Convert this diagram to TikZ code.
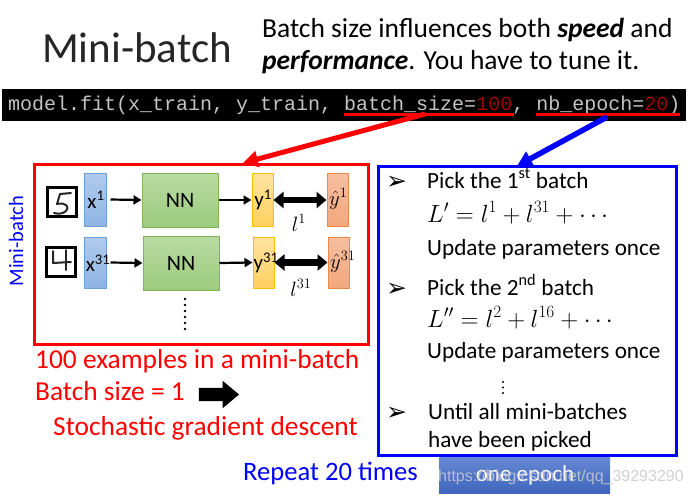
\documentclass[tikz,border=0pt]{standalone}
\usepackage{fontspec}
\usepackage{graphicx}
\usetikzlibrary{arrows.meta,shapes.arrows}
\setmainfont{Carlito}
\newfontfamily\codefont{Liberation Mono}
\newfontfamily\symfont{DejaVu Sans}
\newfontfamily\wmfont{Liberation Sans}
\newcommand\fs[1]{\fontsize{#1}{#1}\selectfont}
\definecolor{xfillA}{HTML}{AFCBEC}
\definecolor{xfillB}{HTML}{8FB4E3}
\definecolor{xline}{HTML}{6F9FD8}
\definecolor{nnA}{HTML}{B9DBA2}
\definecolor{nnB}{HTML}{9DCB7E}
\definecolor{nnline}{HTML}{7FB35A}
\definecolor{yA}{HTML}{FFE3A0}
\definecolor{yB}{HTML}{FFD060}
\definecolor{yline}{HTML}{FFC000}
\definecolor{hA}{HTML}{F6BEA0}
\definecolor{hB}{HTML}{F3A77C}
\definecolor{hline}{HTML}{EE8845}
\definecolor{codegray}{HTML}{C4C4C4}
\definecolor{codered}{HTML}{A00000}
\definecolor{btnA}{HTML}{6688D4}
\definecolor{btnB}{HTML}{3F66BC}
\definecolor{wmgray}{HTML}{C8C8D2}
\tikzset{
  xrect/.style={draw=xline, line width=1pt, top color=xfillA, bottom color=xfillB, minimum width=22pt, minimum height=53pt, inner sep=0pt},
  nnrect/.style={draw=nnline, line width=1pt, top color=nnA, bottom color=nnB, minimum width=76pt, minimum height=54pt, inner sep=0pt},
  yrect/.style={draw=yline, line width=1pt, top color=yA, bottom color=yB, minimum width=21pt, minimum height=53pt, inner sep=0pt},
  hrect/.style={draw=hline, line width=1pt, top color=hA, bottom color=hB, minimum width=21pt, minimum height=53pt, inner sep=0pt},
  digitbox/.style={draw=black, line width=3pt, fill=white, minimum width=29pt, minimum height=29pt, inner sep=0pt},
  flowarrow/.style={line width=2.2pt, -{Triangle[length=8pt,width=9pt]}},
  lossarrow/.style={line width=6.5pt, {Triangle[length=10pt,width=16pt]}-{Triangle[length=10pt,width=16pt]}},
  boxlabel/.style={inner sep=0pt, font=\fs{21}},
  redtxt/.style={text=red, anchor=base west, inner sep=0pt, font=\fs{27.4}},
  bluetxt/.style={anchor=base west, inner sep=0pt, font=\fs{23.2}},
  mathtxt/.style={anchor=base west, inner sep=0pt, font=\fs{23}},
  bullet/.style={anchor=base west, inner sep=0pt, font=\symfont\fs{25}},
}
\begin{document}
\begin{tikzpicture}[x=1pt,y=-1pt]
\useasboundingbox (0,0) rectangle (690,496);
\fill[white] (0,0) rectangle (690,496);
% title and header
\node[anchor=base west, inner sep=0pt, font=\fs{43}, text=black!85] (title) at (42,62) {Mini-batch};
\node[anchor=base west, inner sep=0pt, font=\fs{27.5}] (head1) at (262,37) {Batch size influences both \textbf{\textit{speed}} and};
\node[anchor=base west, inner sep=0pt, font=\fs{27.5}] (head2) at (262,69) {\textbf{\textit{performance}}. You have to tune it.};
% code bar
\node[fill=black, anchor=north west, minimum width=684pt, minimum height=32pt, inner sep=0pt] (bar) at (2,89) {};
\node[anchor=base west, inner sep=0pt, font=\codefont\fs{20}, text=codegray] (code) at (8,110)
  {model.fit(x\_train, y\_train, batch\_size=\textcolor{codered}{100}, nb\_epoch=\textcolor{codered}{20})};
\draw[red, line width=3pt] (344,114) -- (514,114);
\draw[red, line width=3pt] (536,114) -- (680,114);
\coordinate (redsrc) at (425,114);
\coordinate (bluesrc) at (607,117);
% red box
\node[draw=red, line width=3pt, anchor=north west, minimum width=334pt, minimum height=180pt, inner sep=0pt] (rb) at (33,163) {};
\node[rotate=90, text=blue, inner sep=0pt, font=\fs{20.5}] (mbl) at (16,241) {Mini-batch};
% blue box
\node[draw=blue, line width=3pt, anchor=north west, minimum width=298pt, minimum height=289pt, inner sep=0pt] (bb) at (377,165) {};
\coordinate (redtip) at (243,163);
\coordinate (bluetip) at (517,166);
\draw[red, line width=5pt, -{Triangle[length=15pt,width=16pt]}] (redsrc) -- (redtip);
\draw[blue, line width=5.5pt, -{Triangle[length=15pt,width=16pt]}] (bluesrc) -- (bluetip);
% row 1
\node[digitbox] (d1) at (62,202) {};
\draw[line width=2pt, black!85, line cap=round, line join=round] (71,193) -- (60,194) -- (57,204) .. controls (66,202) and (70,207) .. (66,211) .. controls (63,214) and (58,214) .. (54,213);
\node[xrect] (x1) at (95,199.5) {};
\node[boxlabel] (x1t) at (96,200) {x\textsuperscript{1}};
\node[nnrect] (nn1) at (180,200) {};
\node[font=\fs{22}, inner sep=0pt] (nn1t) at (180,200) {NN};
\node[yrect] (y1) at (262.5,200) {};
\node[boxlabel] (y1t) at (263,200) {y\textsuperscript{1}};
\node[hrect] (h1) at (337.5,200) {};
\node[anchor=west, inner sep=0pt, font=\fs{22}] (h1t) at (329,199) {$\hat{y}^{1}$};
\draw[flowarrow] (x1.east) ++(4,0) coordinate (x1o) (x1o) -- (nn1.west);
\draw[flowarrow] (nn1.east) -- (y1.west);
\draw[lossarrow] (y1.east) -- (h1.west);
\node[inner sep=0pt, font=\fs{22}] (l1) at (299,223) {$l^{1}$};
% row 2
\node[digitbox] (d2) at (61,261.5) {};
\draw[line width=2pt, black!85, line cap=round, line join=round] (53,251) -- (53,263) -- (71,262);
\draw[line width=2pt, black!85, line cap=round] (66,250) -- (66,270);
\node[xrect, minimum height=51pt] (x2) at (95,262.5) {};
\node[boxlabel] (x2t) at (98,263) {x\textsuperscript{31}};
\node[nnrect] (nn2) at (181,263) {};
\node[font=\fs{22}, inner sep=0pt] (nn2t) at (181,263) {NN};
\node[yrect, minimum height=51pt] (y2) at (263.5,262.5) {};
\node[boxlabel] (y2t) at (266,263) {y\textsuperscript{31}};
\node[hrect, minimum height=51pt] (h2) at (338.5,262.5) {};
\node[anchor=west, inner sep=0pt, font=\fs{22}] (h2t) at (330,262) {$\hat{y}^{31}$};
\draw[flowarrow] (x2.east) ++(4,0) coordinate (x2o) (x2o) -- (nn2.west);
\draw[flowarrow] (nn2.east) -- (y2.west);
\draw[lossarrow] (y2.east) -- (h2.west);
\node[inner sep=0pt, font=\fs{22}] (l2) at (301,288) {$l^{31}$};
\foreach \i in {0,...,5} \fill (185,299+\i*6) circle (1.4pt);
% red texts
\node[redtxt] (ex) at (35,368) {100 examples in a mini-batch};
\node[redtxt] (bs) at (35,400) {Batch size = 1};
\node[single arrow, fill=black, inner sep=6.5pt, single arrow head extend=7pt, minimum height=40pt, single arrow tip angle=80] (bigarrow) at (215,394.5) {};
\node[redtxt] (sgd) at (53,435) {Stochastic gradient descent};
\node[anchor=base west, inner sep=0pt, text=blue, font=\fs{26.6}] (rep) at (243,480) {Repeat 20 times};
% blue box texts
\node[bullet] (b1) at (386,189) {➢};
\node[bluetxt] (p1) at (427,188) {Pick the 1\textsuperscript{st} batch};
\node[mathtxt] (m1) at (427,222) {$L' = l^{1} + l^{31} + \cdots$};
\node[bluetxt] (u1) at (427,255) {Update parameters once};
\node[bullet] (b2) at (386,296) {➢};
\node[bluetxt] (p2) at (427,295) {Pick the 2\textsuperscript{nd} batch};
\node[mathtxt] (m2) at (427,327) {$L'' = l^{2} + l^{16} + \cdots$};
\node[bluetxt] (u2) at (427,358) {Update parameters once};
\foreach \i in {0,1,2} \fill (503,382+\i*5.5) circle (1.2pt);
\node[bullet] (b3) at (386,420) {➢};
\node[bluetxt] (un) at (428,419) {Until all mini-batches};
\node[bluetxt] (hb) at (428,447) {have been picked};
% one epoch button
\node[top color=btnA, bottom color=btnB, anchor=north west, minimum width=171pt, minimum height=36pt, inner sep=0pt] (btn) at (439,457) {};
\node[text=white, inner sep=0pt, font=\fs{23}] (ep) at (525,475) {one epoch};
\node[anchor=base west, inner sep=0pt, text=wmgray, opacity=0.85, font=\wmfont\fs{16}] (wm) at (438,481) {https://blog.csdn.net/qq\_39293290};
\end{tikzpicture}
\end{document}
